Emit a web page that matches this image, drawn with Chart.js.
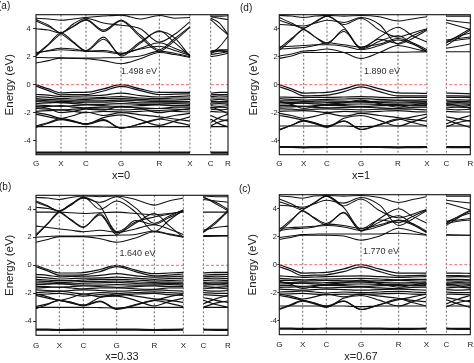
<!DOCTYPE html>
<html><head><meta charset="utf-8">
<script src="https://cdn.jsdelivr.net/npm/chart.js@4.4.1/dist/chart.umd.min.js"></script>
<style>
html,body{margin:0;padding:0;background:#fff;width:474px;height:363px;overflow:hidden;}
canvas{position:absolute;}
.lab{position:absolute;font-family:"Liberation Sans",Arial,sans-serif;color:#222;white-space:nowrap;line-height:1;transform:translate(0,-50%);}
.ctr{transform:translate(-50%,-50%);}
</style></head><body>
<canvas id="pa" width="237" height="182" style="left:0;top:0"></canvas>
<canvas id="pd" width="237" height="182" style="left:237px;top:0"></canvas>
<canvas id="pb" width="237" height="182" style="left:0;top:182px"></canvas>
<canvas id="pc" width="237" height="182" style="left:237px;top:182px"></canvas>
<div class="lab" style="left:-2px;top:6px;font-size:10px">(a)</div>
<div class="lab" style="left:240px;top:7.5px;font-size:10px">(d)</div>
<div class="lab" style="left:-1px;top:187px;font-size:10px">(b)</div>
<div class="lab" style="left:239px;top:189px;font-size:10px">(c)</div>
<div class="lab ctr" style="left:121px;top:175px;font-size:11px">x=0</div>
<div class="lab ctr" style="left:361px;top:175px;font-size:11px">x=1</div>
<div class="lab ctr" style="left:122px;top:356px;font-size:11px">x=0.33</div>
<div class="lab ctr" style="left:361px;top:356px;font-size:11px">x=0.67</div>
<div class="lab" style="left:121px;top:70.7px;font-size:9px;color:#333">1.498 eV</div>
<div class="lab" style="left:364px;top:70.7px;font-size:9px;color:#333">1.890 eV</div>
<div class="lab" style="left:119.5px;top:252.7px;font-size:9px;color:#333">1.640 eV</div>
<div class="lab" style="left:363px;top:251.3px;font-size:9px;color:#333">1.770 eV</div>
<script>
const _ = null;
// high-symmetry labels and energy ticks
const kLabels = ['G','X','C','G','R','X','C','R'];
const yTicks = [-4,-2,0,2,4];

// ---- panel (a) x=0 ----
const ticksA = [0,25,50,85,123.3,154,174.7,192];
const kA = [0,12.5,25,37.5,50,67.5,85,104.2,123.3,138.6,154,164,174.7,183.4,192];
const condA = [
[1.55,1.72,1.9,1.88,1.86,1.72,1.5,1.85,2.3,2.15,1.95,_,2.0,2.1,2.25],
[1.95,1.93,1.92,1.9,1.9,1.92,1.95,2.05,2.4,2.25,2.0,_,2.15,2.25,2.35],
[2.05,2.85,3.65,4.15,4.6,3.8,4.55,3.4,2.4,3.15,4.1,_,4.65,4.1,3.55],
[2.15,2.9,3.7,3.05,2.45,3.4,2.05,2.95,3.85,3.0,2.05,_,2.25,2.4,2.35],
[4.55,4.15,3.65,3.0,2.4,3.25,2.15,3.05,3.8,3.35,2.0,_,2.2,2.7,3.45],
[4.65,4.25,3.7,4.2,4.65,3.9,4.6,3.55,2.5,3.3,4.15,_,4.75,4.4,3.6],
[4.0,3.9,3.7,4.35,4.75,4.4,4.25,4.0,3.05,3.6,4.5,_,4.85,4.75,4.65],
[4.75,4.7,4.6,4.7,4.8,4.9,4.97,4.7,4.95,4.75,4.8,_,4.9,4.9,4.92],
[2.25,2.45,2.6,2.55,2.4,2.45,2.25,2.55,2.75,2.45,2.1,_,2.4,2.5,2.5],
[2.3,2.4,2.5,2.45,2.38,2.35,2.2,2.6,3.0,2.6,2.15,_,2.35,2.45,2.4]
];
const valA = [
[0,-0.3,-0.58,-0.55,-0.55,-0.3,0,-0.3,-0.55,-0.55,-0.55,_,-0.6,-0.55,-0.55],
[-0.1,-0.42,-0.72,-0.7,-0.7,-0.45,-0.12,-0.42,-0.7,-0.68,-0.65,_,-0.72,-0.7,-0.7],
[-0.7,-0.75,-0.85,-0.82,-0.8,-0.75,-0.6,-0.78,-0.88,-0.85,-0.8,_,-0.85,-0.8,-0.82],
[-0.85,-0.9,-1.0,-0.95,-0.95,-0.9,-0.85,-0.95,-1.0,-0.95,-0.95,_,-0.95,-0.95,-0.95],
[-1.0,-1.05,-1.1,-1.1,-1.05,-1.0,-1.0,-1.05,-1.1,-1.1,-1.05,_,-1.1,-1.05,-1.1],
[-1.1,-1.15,-1.2,-1.18,-1.15,-1.15,-1.1,-1.15,-1.2,-1.2,-1.2,_,-1.2,-1.2,-1.2],
[-1.2,-1.25,-1.3,-1.3,-1.25,-1.25,-1.2,-1.3,-1.3,-1.3,-1.3,_,-1.3,-1.3,-1.3],
[-1.35,-1.3,-1.25,-1.35,-1.4,-1.4,-1.35,-1.4,-1.4,-1.35,-1.4,_,-1.4,-1.35,-1.4],
[-1.45,-1.5,-1.55,-1.5,-1.45,-1.5,-1.55,-1.5,-1.45,-1.5,-1.5,_,-1.5,-1.55,-1.5],
[-1.6,-1.55,-1.5,-1.6,-1.65,-1.6,-1.6,-1.65,-1.7,-1.6,-1.6,_,-1.65,-1.6,-1.65],
[-1.7,-1.75,-1.8,-1.75,-1.7,-1.75,-1.8,-1.75,-1.7,-1.75,-1.8,_,-1.75,-1.8,-1.75],
[-1.9,-1.85,-1.8,-1.9,-2.0,-1.9,-1.95,-1.9,-1.85,-1.9,-1.95,_,-1.9,-1.95,-1.95],
[-1.55,-1.7,-2.0,-1.9,-1.75,-1.8,-1.55,-1.7,-2.0,-1.85,-1.7,_,-1.6,-1.8,-2.05],
[-2.0,-2.15,-2.4,-2.2,-1.95,-2.2,-2.0,-2.15,-2.3,-2.45,-2.6,_,-2.2,-2.45,-2.6],
[-2.1,-2.3,-2.45,-2.6,-2.8,-2.5,-3.1,-2.8,-2.45,-2.2,-2.05,_,-2.7,-2.35,-2.1],
[-2.95,-2.7,-2.4,-2.6,-2.85,-2.55,-3.1,-2.8,-2.45,-2.65,-2.9,_,-2.95,-2.65,-2.5],
[-3.0,-3.0,-3.0,-3.0,-3.0,-3.02,-3.05,-3.0,-3.0,-3.0,-3.0,_,-3.0,-3.0,-3.0],
[-3.05,-2.75,-2.5,-2.65,-2.8,-2.35,-2.15,-2.5,-2.9,-2.6,-2.3,_,-2.45,-2.8,-3.0]
];
const deepA = [[-4.85,-4.85,-4.85,-4.85,-4.85,-4.85,-4.85,-4.85,-4.85,-4.85,-4.85,_,-4.85,-4.85,-4.85]];

// ---- panel (d) x=1 ----
const ticksD = [0,24.4,47.7,81.7,118.7,147.7,167,191];
const kD = [0,12.2,24.4,36,47.7,64.7,81.7,100.2,118.7,133.2,147.7,157,167,179,191];
const condD = [
[1.88,2.05,2.3,2.3,2.3,2.3,2.3,2.3,2.32,2.33,2.35,_,2.35,2.35,2.35],
[2.05,2.2,2.4,2.45,2.55,2.3,1.88,2.3,2.8,2.6,2.35,_,2.6,2.75,2.9],
[2.45,3.2,3.95,3.4,2.9,3.95,2.55,3.1,3.5,2.95,2.35,_,2.8,3.35,3.9],
[2.6,3.3,4.0,4.45,4.9,4.1,2.65,3.25,2.95,3.5,3.95,_,3.0,3.5,4.0],
[4.6,4.3,3.95,3.4,3.0,3.8,2.6,3.4,4.1,3.5,3.05,_,3.1,3.45,3.7],
[4.8,4.4,4.05,4.5,4.9,4.3,4.75,3.9,3.4,3.7,4.0,_,4.45,4.2,3.95],
[4.3,4.25,4.2,4.4,4.6,4.45,4.8,4.3,2.9,3.3,3.9,_,4.6,4.5,4.4],
[4.95,4.9,4.8,4.9,4.95,4.9,4.95,4.85,4.55,4.7,4.85,_,4.9,4.9,4.9],
[2.7,2.75,2.8,2.85,2.85,2.75,2.5,2.8,3.2,2.9,2.4,_,3.2,3.3,3.4],
[2.55,2.6,2.65,2.8,3.0,2.85,2.7,2.9,3.3,3.0,2.5,_,3.05,3.2,3.3]
];
const valD = [
[0,-0.3,-0.6,-0.58,-0.55,-0.3,0,-0.3,-0.58,-0.6,-0.62,_,-0.6,-0.62,-0.65],
[-0.15,-0.45,-0.8,-0.78,-0.75,-0.5,-0.15,-0.5,-0.8,-0.8,-0.8,_,-0.8,-0.8,-0.82],
[-0.88,-0.9,-0.92,-0.9,-0.9,-0.88,-0.85,-0.9,-0.92,-0.9,-0.9,_,-0.9,-0.9,-0.92],
[-1.0,-1.05,-1.1,-1.08,-1.05,-1.02,-1.0,-1.05,-1.1,-1.1,-1.08,_,-1.1,-1.08,-1.1],
[-1.15,-1.15,-1.2,-1.18,-1.15,-1.18,-1.2,-1.18,-1.15,-1.18,-1.2,_,-1.18,-1.2,-1.18],
[-1.25,-1.28,-1.3,-1.3,-1.28,-1.25,-1.25,-1.28,-1.3,-1.28,-1.3,_,-1.3,-1.28,-1.3],
[-1.38,-1.35,-1.32,-1.38,-1.42,-1.4,-1.38,-1.4,-1.4,-1.38,-1.4,_,-1.4,-1.38,-1.4],
[-1.5,-1.5,-1.55,-1.5,-1.48,-1.5,-1.55,-1.5,-1.48,-1.5,-1.5,_,-1.5,-1.52,-1.5],
[-1.6,-1.58,-1.55,-1.62,-1.65,-1.62,-1.6,-1.65,-1.7,-1.62,-1.6,_,-1.65,-1.6,-1.65],
[-1.72,-1.75,-1.8,-1.75,-1.72,-1.75,-1.8,-1.75,-1.72,-1.75,-1.8,_,-1.75,-1.8,-1.75],
[-1.9,-1.88,-1.85,-1.9,-1.98,-1.9,-1.95,-1.9,-1.85,-1.92,-1.95,_,-1.9,-1.95,-1.95],
[-1.2,-1.4,-1.7,-1.55,-1.4,-1.3,-1.1,-1.35,-1.6,-1.45,-1.3,_,-1.35,-1.5,-1.65],
[-2.05,-2.2,-2.4,-2.25,-2.05,-2.25,-2.05,-2.2,-2.35,-2.5,-2.6,_,-2.3,-2.45,-2.6],
[-2.2,-2.35,-2.55,-2.75,-2.95,-2.6,-3.2,-2.85,-2.5,-2.3,-2.1,_,-2.8,-2.45,-2.2],
[-3.2,-2.9,-2.55,-2.75,-3.0,-2.6,-3.2,-2.85,-2.45,-2.7,-2.95,_,-3.0,-2.7,-2.55],
[-2.95,-2.95,-2.95,-2.95,-2.95,-2.95,-3.0,-2.95,-2.95,-2.95,-2.95,_,-2.95,-2.95,-2.95],
[-3.25,-2.9,-2.6,-2.8,-3.05,-2.4,-2.2,-2.55,-2.95,-2.65,-2.3,_,-2.5,-2.8,-3.05]
];
const deepD = [[-4.45,-4.45,-4.47,-4.46,-4.45,-4.45,-4.45,-4.45,-4.47,-4.46,-4.45,_,-4.45,-4.46,-4.46]];

// ---- panel (b) x=0.33 ----
const ticksB = [0,23.3,47.3,80.7,118.3,147.3,167.3,192];
const kB = [0,11.7,23.3,35.3,47.3,64,80.7,99.5,118.3,132.8,147.3,157,167.3,179.7,192];
const condB = [
[1.65,1.85,2.05,2.05,2.05,1.9,1.64,1.95,2.4,2.2,2.0,_,2.05,2.08,2.1],
[2.0,2.05,2.1,2.1,2.1,2.12,2.15,2.2,2.45,2.25,2.05,_,2.12,2.12,2.12],
[2.1,2.95,3.8,3.2,2.7,3.7,2.3,3.0,3.7,2.85,2.0,_,2.4,3.1,3.9],
[2.2,3.0,3.8,4.3,4.85,4.25,2.4,3.1,3.45,3.65,3.9,_,2.35,3.0,3.85],
[4.5,4.2,3.8,3.25,2.75,3.6,2.2,3.2,2.9,3.4,3.85,_,4.9,4.4,3.9],
[4.6,4.25,3.85,4.35,4.9,4.0,4.6,3.8,2.4,3.2,3.95,_,4.85,4.5,4.0],
[4.15,4.05,3.9,4.4,4.8,4.5,4.9,4.1,3.0,3.5,3.95,_,4.7,4.6,4.5],
[4.85,4.8,4.7,4.85,4.95,4.9,4.95,4.7,4.3,4.6,4.8,_,4.95,4.9,4.9],
[2.8,2.7,2.6,2.5,2.4,2.5,2.35,2.6,2.9,2.6,2.2,_,2.5,2.7,2.8],
[3.8,3.8,3.8,3.75,3.7,3.75,3.8,3.7,3.6,3.7,3.8,_,3.8,3.8,3.8]
];
const valB = [
[0,-0.3,-0.55,-0.55,-0.52,-0.3,0,-0.35,-0.6,-0.55,-0.5,_,-0.55,-0.5,-0.5],
[-0.1,-0.4,-0.7,-0.7,-0.68,-0.45,-0.1,-0.45,-0.75,-0.7,-0.62,_,-0.7,-0.65,-0.65],
[-0.65,-0.72,-0.82,-0.8,-0.78,-0.72,-0.6,-0.75,-0.85,-0.82,-0.78,_,-0.82,-0.78,-0.8],
[-0.85,-0.9,-0.98,-0.95,-0.92,-0.9,-0.85,-0.92,-1.0,-0.95,-0.92,_,-0.95,-0.92,-0.95],
[-1.0,-1.05,-1.1,-1.1,-1.05,-1.0,-1.0,-1.05,-1.12,-1.1,-1.05,_,-1.1,-1.05,-1.1],
[-1.12,-1.15,-1.22,-1.2,-1.15,-1.15,-1.12,-1.18,-1.22,-1.2,-1.2,_,-1.22,-1.2,-1.2],
[-1.25,-1.28,-1.32,-1.32,-1.28,-1.25,-1.22,-1.3,-1.32,-1.3,-1.32,_,-1.3,-1.32,-1.3],
[-1.38,-1.35,-1.3,-1.38,-1.42,-1.42,-1.38,-1.42,-1.42,-1.38,-1.42,_,-1.42,-1.38,-1.42],
[-1.5,-1.52,-1.58,-1.52,-1.48,-1.52,-1.58,-1.52,-1.48,-1.52,-1.52,_,-1.52,-1.58,-1.52],
[-1.62,-1.58,-1.55,-1.62,-1.68,-1.62,-1.62,-1.68,-1.72,-1.62,-1.62,_,-1.68,-1.62,-1.68],
[-1.75,-1.8,-1.85,-1.8,-1.75,-1.8,-1.85,-1.8,-1.75,-1.8,-1.85,_,-1.8,-1.85,-1.8],
[-1.95,-1.9,-1.85,-1.95,-2.05,-1.95,-2.0,-1.95,-1.9,-1.95,-2.0,_,-1.95,-2.0,-2.0],
[-2.1,-2.05,-2.0,-2.1,-2.2,-2.1,-2.15,-2.05,-2.0,-2.1,-2.15,_,-2.1,-2.15,-2.2],
[-2.05,-2.25,-2.5,-2.3,-2.05,-2.25,-2.05,-2.2,-2.4,-2.5,-2.65,_,-2.3,-2.5,-2.65],
[-2.15,-2.35,-2.5,-2.65,-2.85,-2.55,-3.1,-2.8,-2.5,-2.25,-2.05,_,-2.75,-2.4,-2.15],
[-2.95,-2.75,-2.5,-2.65,-2.9,-2.6,-3.15,-2.85,-2.5,-2.7,-2.95,_,-3.0,-2.7,-2.55],
[-3.0,-3.0,-3.0,-3.0,-3.0,-3.02,-3.05,-3.0,-3.0,-3.0,-3.0,_,-3.0,-3.0,-3.0],
[-3.1,-2.8,-2.5,-2.7,-2.85,-2.3,-2.2,-2.5,-2.9,-2.6,-2.35,_,-2.5,-2.8,-3.0]
];
const deepB = [[-4.6,-4.6,-4.62,-4.61,-4.6,-4.6,-4.6,-4.6,-4.62,-4.61,-4.6,_,-4.6,-4.61,-4.61]];

// ---- panel (c) x=0.67 ----
const ticksC = [0,23.4,47,81.7,119.4,147,167,191];
const kC = [0,11.7,23.4,35.2,47,64.3,81.7,100.5,119.4,133.2,147,157,167,179,191];
const condC = [
[1.8,1.95,2.1,2.1,2.1,2.05,1.75,2.05,2.6,2.4,2.15,_,2.15,2.12,2.1],
[1.95,2.05,2.15,2.18,2.2,2.2,2.2,2.2,2.25,2.2,2.1,_,2.1,2.1,2.1],
[2.35,3.1,3.85,3.3,2.85,3.75,2.45,3.05,3.5,2.9,2.3,_,2.8,3.35,3.85],
[2.5,3.2,3.9,4.4,4.9,4.1,2.55,3.2,3.0,3.45,3.9,_,2.95,3.45,3.9],
[4.5,4.2,3.85,3.35,2.95,3.7,2.4,3.3,4.0,3.45,3.0,_,3.05,3.4,3.7],
[4.7,4.35,4.0,4.45,4.9,4.2,4.7,3.85,3.35,3.6,3.95,_,4.4,4.15,3.9],
[4.25,4.2,4.1,4.35,4.6,4.4,4.8,4.25,2.8,3.25,3.85,_,4.6,4.5,4.4],
[4.9,4.85,4.75,4.9,4.95,4.9,4.95,4.8,4.45,4.65,4.85,_,4.9,4.9,4.9],
[2.6,2.65,2.7,2.75,2.8,2.7,2.45,2.75,3.15,2.85,2.35,_,3.1,3.2,3.3],
[2.45,2.55,2.6,2.7,2.9,2.8,2.6,2.85,3.2,2.95,2.4,_,2.95,3.1,3.2]
];
const valC = [
[0,-0.3,-0.6,-0.58,-0.55,-0.3,0,-0.32,-0.6,-0.6,-0.6,_,-0.6,-0.6,-0.62],
[-0.15,-0.45,-0.78,-0.75,-0.72,-0.5,-0.15,-0.5,-0.8,-0.78,-0.75,_,-0.78,-0.78,-0.8],
[-0.8,-0.85,-0.9,-0.88,-0.85,-0.82,-0.8,-0.85,-0.9,-0.88,-0.85,_,-0.88,-0.85,-0.88],
[-0.98,-1.02,-1.08,-1.05,-1.02,-1.0,-0.98,-1.02,-1.08,-1.05,-1.05,_,-1.05,-1.05,-1.08],
[-1.12,-1.12,-1.18,-1.15,-1.12,-1.15,-1.18,-1.15,-1.12,-1.15,-1.18,_,-1.15,-1.18,-1.15],
[-1.25,-1.28,-1.3,-1.3,-1.28,-1.25,-1.25,-1.28,-1.3,-1.28,-1.3,_,-1.3,-1.28,-1.3],
[-1.38,-1.35,-1.32,-1.38,-1.42,-1.4,-1.38,-1.4,-1.4,-1.38,-1.4,_,-1.4,-1.38,-1.4],
[-1.5,-1.5,-1.55,-1.5,-1.48,-1.5,-1.55,-1.5,-1.48,-1.5,-1.5,_,-1.5,-1.52,-1.5],
[-1.62,-1.6,-1.58,-1.62,-1.66,-1.62,-1.6,-1.66,-1.7,-1.62,-1.6,_,-1.66,-1.6,-1.66],
[-1.75,-1.78,-1.82,-1.78,-1.75,-1.78,-1.82,-1.78,-1.75,-1.78,-1.82,_,-1.78,-1.82,-1.78],
[-1.95,-1.92,-1.88,-1.95,-2.02,-1.95,-2.0,-1.95,-1.9,-1.95,-2.0,_,-1.95,-2.0,-2.0],
[-2.1,-2.08,-2.05,-2.1,-2.15,-2.1,-2.12,-2.08,-2.05,-2.1,-2.12,_,-2.1,-2.12,-2.15],
[-1.2,-1.4,-1.7,-1.55,-1.4,-1.3,-1.1,-1.35,-1.6,-1.45,-1.3,_,-1.35,-1.5,-1.65],
[-2.1,-2.25,-2.45,-2.3,-2.1,-2.3,-2.1,-2.25,-2.4,-2.55,-2.65,_,-2.35,-2.5,-2.65],
[-2.2,-2.35,-2.55,-2.75,-2.95,-2.6,-3.2,-2.85,-2.5,-2.3,-2.1,_,-2.8,-2.45,-2.2],
[-3.15,-2.85,-2.55,-2.75,-3.0,-2.6,-3.2,-2.85,-2.45,-2.7,-2.95,_,-3.0,-2.7,-2.55],
[-2.95,-2.95,-2.95,-2.95,-2.95,-2.95,-3.0,-2.95,-2.95,-2.95,-2.95,_,-2.95,-2.95,-2.95],
[-3.2,-2.9,-2.6,-2.8,-3.05,-2.4,-2.2,-2.55,-2.95,-2.65,-2.3,_,-2.5,-2.8,-3.05]
];
const deepC = [[-4.57,-4.57,-4.59,-4.58,-4.57,-4.57,-4.57,-4.57,-4.59,-4.58,-4.57,_,-4.57,-4.58,-4.58]];

// ---------- drawing ----------
Chart.defaults.font.family = '"Liberation Sans", Arial, sans-serif';
Chart.defaults.color = '#222';

const decor = {
  id: 'decor',
  beforeDatasetsDraw(chart, args, o) {
    const {ctx, chartArea: a} = chart;
    const x = chart.scales.x;
    ctx.save();
    ctx.strokeStyle = '#555'; ctx.lineWidth = 0.9; ctx.setLineDash([2, 2]);
    o.ticks.forEach((v, i) => {
      if (i === 0 || i === o.ticks.length - 1) return;
      const px = x.getPixelForValue(v);
      ctx.beginPath(); ctx.moveTo(px, a.top); ctx.lineTo(px, a.bottom); ctx.stroke();
    });
    ctx.restore();
  },
  afterDatasetsDraw(chart, args, o) {
    const {ctx, chartArea: a} = chart;
    const x = chart.scales.x, y = chart.scales.y;
    ctx.save();
    const py = y.getPixelForValue(0);
    ctx.strokeStyle = '#ec6a72'; ctx.lineWidth = 1; ctx.setLineDash([3, 2]);
    ctx.beginPath(); ctx.moveTo(a.left, py); ctx.lineTo(a.right, py); ctx.stroke();
    ctx.setLineDash([]);
    const g0 = x.getPixelForValue(o.ticks[5]), g1 = x.getPixelForValue(o.ticks[6]);
    ctx.fillStyle = '#fff';
    ctx.fillRect(g0 + 0.8, a.top, g1 - g0 - 1.6, a.bottom - a.top);
    ctx.strokeStyle = '#111'; ctx.lineWidth = 1.1;
    ctx.strokeRect(a.left, a.top, a.right - a.left, a.bottom - a.top);
    ctx.restore();
  }
};

function bandSets(samples, bands, width) {
  return bands.map(b => ({
    data: b.map((v, i) => ({x: samples[i], y: v})),
    borderColor: '#111', borderWidth: width,
    pointRadius: 0, fill: false, spanGaps: false,
    cubicInterpolationMode: 'monotone'
  }));
}

const panels = [
  {id:'pa', k:kA, ticks:ticksA, cond:condA, val:valA, deep:deepA, H:182, L:36, R:9, T:14.7, B:154.7, ytp:3.4, ytl:3, ytpad:2.3, xtl:4.1},
  {id:'pd', k:kD, ticks:ticksD, cond:condD, val:valD, deep:deepD, H:182, L:42.3, R:3.7, T:14.7, B:154.7, ytp:10.4, ytl:1.6, ytpad:0, xtl:4.1},
  {id:'pb', k:kB, ticks:ticksB, cond:condB, val:valB, deep:deepB, H:182, L:36, R:9, T:13.3, B:153.3, ytp:3.4, ytl:3, ytpad:1.3, xtl:5.2},
  {id:'pc', k:kC, ticks:ticksC, cond:condC, val:valC, deep:deepC, H:182, L:42.3, R:3.7, T:12.7, B:152.7, ytp:9.4, ytl:2, ytpad:0.3, xtl:5.2}
];

panels.forEach(p => {
  const datasets = [
    ...bandSets(p.k, p.cond, 1.05),
    ...bandSets(p.k, p.val, 1.2),
    ...bandSets(p.k, p.deep, 2.2)
  ];
  new Chart(document.getElementById(p.id), {
    type: 'line',
    data: {datasets},
    plugins: [decor],
    options: {
      responsive: false, animation: false, events: [],
      layout: {padding: {top: p.T, right: p.R, left: 0, bottom: 0}},
      plugins: {legend: {display: false}, tooltip: {enabled: false}, decor: {ticks: p.ticks}},
      scales: {
        x: {
          type: 'linear', min: 0, max: p.ticks[p.ticks.length - 1],
          border: {display: false},
          grid: {drawOnChartArea: false, drawTicks: true, tickLength: p.xtl, color: 'rgba(0,0,0,0)', tickColor: 'rgba(0,0,0,0)'},
          afterBuildTicks: s => { s.ticks = p.ticks.map(v => ({value: v})); },
          afterFit: s => { s.height = p.H - p.B; s.paddingLeft = 0; s.paddingRight = 0; },
          ticks: {autoSkip: false, maxRotation: 0, minRotation: 0, padding: 0,
                  font: {size: 8}, color: '#222',
                  callback: (v, i) => kLabels[i]}
        },
        y: {
          type: 'linear', min: -5, max: 5,
          border: {display: false},
          grid: {drawOnChartArea: false, drawTicks: true, tickLength: p.ytl, color: 'rgba(0,0,0,0)', tickColor: '#333', tickWidth: 1},
          afterBuildTicks: s => { s.ticks = yTicks.map(v => ({value: v})); },
          afterFit: s => { s.width = p.L; s.paddingTop = 0; s.paddingBottom = 0; },
          ticks: {padding: p.ytpad, font: {size: 7.5}, color: '#222', callback: v => String(v)},
          title: {display: true, text: 'Energy (eV)', font: {size: 11.5}, color: '#222', padding: {top: p.ytp - 0.3, bottom: 0}}
        }
      }
    }
  });
});
</script>
</body></html>
